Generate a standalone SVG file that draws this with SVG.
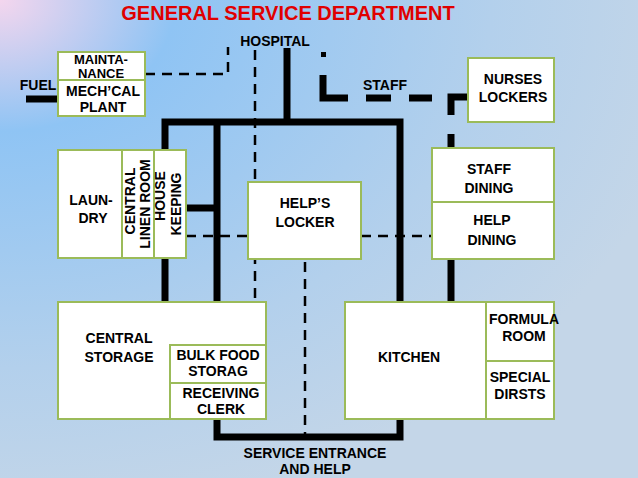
<svg xmlns="http://www.w3.org/2000/svg" width="638" height="478" viewBox="0 0 638 478">
<defs>
<radialGradient id="bg" cx="0" cy="0" r="1.1" gradientUnits="objectBoundingBox">
<stop offset="0" stop-color="#f4d6ee"/>
<stop offset="0.25" stop-color="#8fc4f4"/>
<stop offset="0.7" stop-color="#b3d0ec"/>
<stop offset="1" stop-color="#c4d6e8"/>
</radialGradient>
</defs>
<style>
.b{fill:#fff;stroke:#9bbb59;stroke-width:2}
.t{font-family:"Liberation Sans",Arial,sans-serif;font-weight:bold;font-size:14px;fill:#000;text-anchor:middle}
.thick{stroke:#000;stroke-width:7;fill:none}
.dash{stroke:#000;stroke-width:2.5;fill:none;stroke-dasharray:10 7}
</style>
<rect width="638" height="478" fill="url(#bg)"/>
<text x="288" y="20" class="t" style="font-size:20px;fill:#e00000">GENERAL SERVICE DEPARTMENT</text>
<text x="275" y="46" class="t">HOSPITAL</text>
<text x="38" y="90" class="t">FUEL</text>
<text x="385" y="90" class="t">STAFF</text>
<text x="315" y="458" class="t">SERVICE ENTRANCE</text>
<text x="315" y="474" class="t">AND HELP</text>
<g id="connectors">
<line class="thick" x1="26" y1="99" x2="58" y2="99"/>
<polyline class="dash" points="145,74 228,74 228,47"/>
<line class="dash" x1="255" y1="50" x2="255" y2="302"/>
<line class="dash" x1="305" y1="262" x2="305" y2="437"/>
<line class="thick" x1="287" y1="48" x2="287" y2="122"/>
<polyline class="thick" points="165,302 165,122 400,122 400,302"/>
<line class="thick" x1="217" y1="122" x2="217" y2="302"/>
<line class="thick" x1="186" y1="208" x2="217" y2="208"/>
<polyline class="dash" points="186,236 248,236"/>
<polyline class="dash" points="361,236 432,236"/>
<rect x="321" y="52" width="5" height="5"/>
<polyline class="thick" points="323,75 323,98 348,98"/>
<line class="thick" x1="366" y1="98" x2="391" y2="98"/>
<line class="thick" x1="409" y1="98" x2="432" y2="98"/>
<polyline class="thick" points="451,115 451,97 468,97"/>
<line class="thick" x1="451" y1="134" x2="451" y2="148"/>
<line class="thick" x1="451" y1="259" x2="451" y2="302"/>
<polyline class="thick" points="217,419 217,437 400,437 400,419"/>
</g>
<g id="maint"><rect class="b" x="58" y="52" width="87" height="28"/><text x="101" y="64" class="t" style="font-size:13px">MAINTA-</text><text x="101" y="78" class="t" style="font-size:13px">NANCE</text></g>
<g id="mech"><rect class="b" x="58" y="80" width="87" height="36"/><text x="103" y="96" class="t">MECH’CAL</text><text x="103" y="112" class="t">PLANT</text></g>
<g id="nurses"><rect class="b" x="468" y="58" width="86" height="64"/><text x="513" y="84" class="t">NURSES</text><text x="513" y="102" class="t">LOCKERS</text></g>
<g id="laundry"><rect class="b" x="58" y="150" width="64" height="108"/><text x="91" y="205" class="t">LAUN-</text><text x="93" y="223" class="t">DRY</text></g>
<g id="linen"><rect class="b" x="122" y="150" width="32" height="108"/><text transform="translate(135,201) rotate(-90)" class="t">CENTRAL</text><text transform="translate(150,204) rotate(-90)" class="t">LINEN ROOM</text></g>
<g id="house"><rect class="b" x="154" y="150" width="32" height="108"/><text transform="translate(165,196) rotate(-90)" class="t">HOUSE</text><text transform="translate(181,204) rotate(-90)" class="t">KEEPING</text></g>
<g id="helpslocker"><rect class="b" x="248" y="182" width="113" height="77"/><text x="305" y="208" class="t">HELP’S</text><text x="305" y="227" class="t">LOCKER</text></g>
<g id="staffdining"><rect class="b" x="432" y="148" width="122" height="54"/><text x="489" y="174" class="t">STAFF</text><text x="489" y="193" class="t">DINING</text></g>
<g id="helpdining"><rect class="b" x="432" y="202" width="122" height="57"/><text x="492" y="225" class="t">HELP</text><text x="492" y="245" class="t">DINING</text></g>
<g id="storage"><rect class="b" x="58" y="302" width="208" height="117"/><text x="119" y="343" class="t">CENTRAL</text><text x="119" y="362" class="t">STORAGE</text></g>
<g id="bulk"><rect class="b" x="170" y="345" width="96" height="38"/><text x="218" y="360" class="t">BULK FOOD</text><text x="218" y="376" class="t">STORAG</text></g>
<g id="receiving"><rect class="b" x="170" y="383" width="96" height="36"/><text x="221" y="398" class="t">RECEIVING</text><text x="221" y="414" class="t">CLERK</text></g>
<g id="kitchen"><rect class="b" x="345" y="302" width="141" height="117"/><text x="409" y="362" class="t">KITCHEN</text></g>
<g id="formula"><rect class="b" x="486" y="302" width="68" height="59"/><text x="524" y="324" class="t">FORMULA</text><text x="524" y="341" class="t">ROOM</text></g>
<g id="special"><rect class="b" x="486" y="361" width="68" height="58"/><text x="520" y="382" class="t">SPECIAL</text><text x="520" y="399" class="t">DIRSTS</text></g>
</svg>
